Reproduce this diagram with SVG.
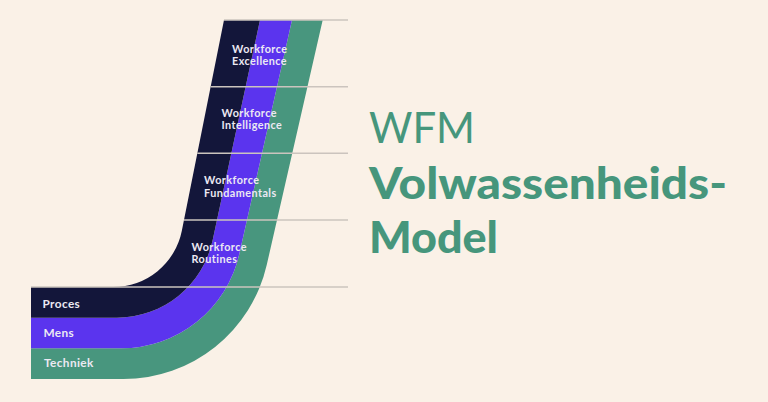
<svg xmlns="http://www.w3.org/2000/svg" width="768" height="402" viewBox="0 0 768 402">
  <style>
    .lbl { font-family: Lato, "Noto Sans", "Liberation Sans", sans-serif; font-weight: 700; font-size: 10.8px; fill: #ECE9F3; letter-spacing: 0.45px; }
    .base { font-family: Lato, "Noto Sans", "Liberation Sans", sans-serif; font-weight: 700; font-size: 11.8px; fill: #ECE9F3; letter-spacing: 0.4px; }
    .sep { stroke: #CBC4BE; stroke-width: 1.5; fill: none; }
    .title { font-family: Lato, "Noto Sans", "Liberation Sans", sans-serif; font-size: 43px; fill: #46967C; }
  </style>
  <rect width="768" height="402" fill="#FAF1E7"/>
  <g id="band-techniek">
    <path d="M31,348.3 H121.3 A121,121 0 0 0 239.35,253.86 L292,20 H322.7 L266.78,264.75 A147,147 0 0 1 123.47,379 H31 Z" fill="#48967E"/>
  </g>
  <g id="band-mens">
    <path d="M31,317.7 H116.83 A98,98 0 0 0 212.64,240.3 L260,20 H292 L239.35,253.86 A121,121 0 0 1 121.3,348.3 H31 Z" fill="#5B34EE"/>
  </g>
  <g id="band-proces">
    <path d="M31,287 H113.2 A70,70 0 0 0 181.84,230.73 L224,20 H260 L212.64,240.3 A98,98 0 0 1 116.83,317.7 H31 Z" fill="#13163A"/>
  </g>
  <g id="connectors">
    <line class="sep" x1="224" y1="20" x2="348" y2="20"/>
    <line class="sep" x1="210.7" y1="86.7" x2="348" y2="86.7"/>
    <line class="sep" x1="197.3" y1="153.3" x2="348" y2="153.3"/>
    <line class="sep" x1="184" y1="220" x2="348" y2="220"/>
    <line class="sep" x1="31" y1="287" x2="348" y2="287"/>
  </g>
  <g id="stage-excellence">
    <text class="lbl" x="232" y="52.5">Workforce</text>
    <text class="lbl" x="232" y="64.5">Excellence</text>
  </g>
  <g id="stage-intelligence">
    <text class="lbl" x="221.5" y="116.5">Workforce</text>
    <text class="lbl" x="221.5" y="129">Intelligence</text>
  </g>
  <g id="stage-fundamentals">
    <text class="lbl" x="204" y="184">Workforce</text>
    <text class="lbl" x="204" y="196.5">Fundamentals</text>
  </g>
  <g id="stage-routines">
    <text class="lbl" x="191.5" y="250.5">Workforce</text>
    <text class="lbl" x="191.5" y="263">Routines</text>
  </g>
  <g id="label-proces"><text class="base" x="42.5" y="307.5">Proces</text></g>
  <g id="label-mens"><text class="base" x="43.5" y="337">Mens</text></g>
  <g id="label-techniek"><text class="base" x="44" y="367">Techniek</text></g>
  <g id="title">
    <text class="title" x="369" y="143.3" font-weight="400" textLength="106" lengthAdjust="spacingAndGlyphs">WFM</text>
    <text class="title" x="369" y="199.3" font-weight="900" textLength="358" lengthAdjust="spacingAndGlyphs">Volwassenheids-</text>
    <text class="title" x="369" y="253.3" font-weight="900" textLength="129" lengthAdjust="spacingAndGlyphs">Model</text>
  </g>
</svg>
